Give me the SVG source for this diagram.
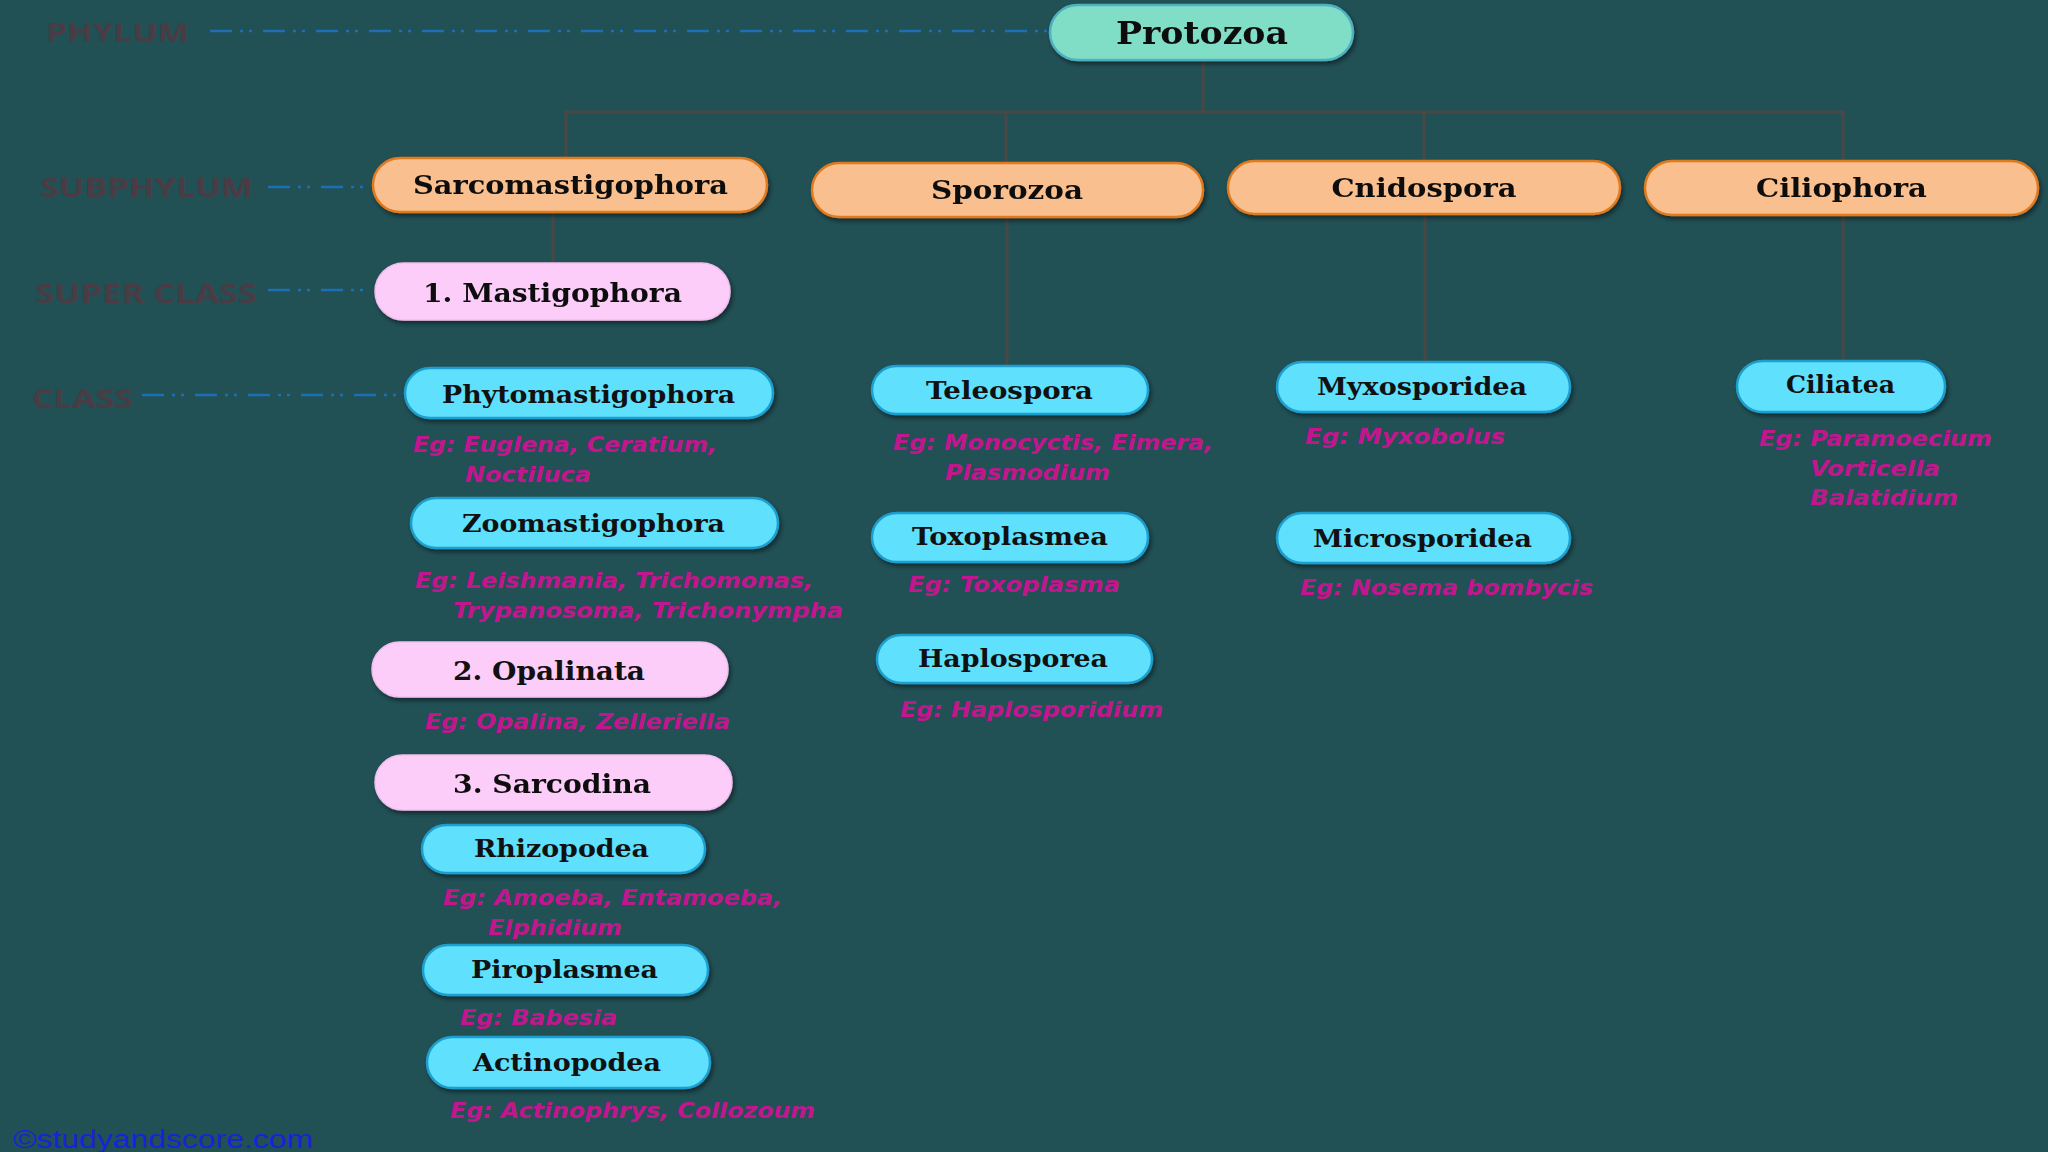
<svg xmlns="http://www.w3.org/2000/svg" width="2048" height="1152" viewBox="0 0 2048 1152">
<style>
.nt{font-family:"DejaVu Serif","Liberation Serif",serif;font-weight:bold;fill:#111;text-anchor:middle}
.eg{font-family:"DejaVu Sans","Noto Sans",sans-serif;font-weight:bold;font-style:italic;font-size:21px;fill:#c2168e}
.lv{font-family:"Open Sans","DejaVu Sans",sans-serif;font-weight:bold;font-size:27px;fill:#4a3c44}
.cy{fill:#5fe0fc;stroke:#1d9fcf;stroke-width:2.5}
.or{fill:#f9bf8e;stroke:#e07a1f;stroke-width:2.5}
.pk{fill:#fccdf8;stroke:#f3bdee;stroke-width:1.5}
.mt{fill:#80dec6;stroke:#4fb0c0;stroke-width:2.5}
.cn{stroke:#4a4846;stroke-width:3;fill:none}
.dl{stroke:#1d6fb5;stroke-width:2.5;fill:none;stroke-dasharray:22 8 3 6 3 11}
</style>
<defs>
<filter id="sh" x="-10%" y="-30%" width="120%" height="170%">
<feDropShadow dx="2" dy="3" stdDeviation="2" flood-color="#000" flood-opacity="0.45"/>
</filter>
</defs>
<rect width="2048" height="1152" fill="#215055"/>

<g id="level-labels">
<text class="lv" x="46" y="42" textLength="143" lengthAdjust="spacingAndGlyphs">PHYLUM</text>
<text class="lv" x="40" y="197" textLength="213" lengthAdjust="spacingAndGlyphs">SUBPHYLUM</text>
<text class="lv" x="35" y="303" textLength="222" lengthAdjust="spacingAndGlyphs">SUPER CLASS</text>
<text class="lv" x="32" y="408" textLength="101" lengthAdjust="spacingAndGlyphs">CLASS</text>
<line class="dl" x1="210" y1="31" x2="1049" y2="31"/>
<line class="dl" x1="268" y1="187" x2="372" y2="187"/>
<line class="dl" x1="268" y1="290" x2="374" y2="290"/>
<line class="dl" x1="142" y1="395" x2="404" y2="395"/>
</g>

<g id="connectors">
<line class="cn" x1="1203" y1="60" x2="1203" y2="112"/>
<line class="cn" x1="564.5" y1="112" x2="1844.5" y2="112"/>
<line class="cn" x1="566" y1="112" x2="566" y2="158"/>
<line class="cn" x1="1006" y1="112" x2="1006" y2="163"/>
<line class="cn" x1="1424" y1="112" x2="1424" y2="161"/>
<line class="cn" x1="1843" y1="112" x2="1843" y2="161"/>
<line class="cn" x1="553" y1="212" x2="553" y2="263"/>
<line class="cn" x1="1007" y1="217" x2="1007" y2="366"/>
<line class="cn" x1="1425" y1="214" x2="1425" y2="362"/>
<line class="cn" x1="1843" y1="215" x2="1843" y2="361"/>
</g>

<g id="protozoa" filter="url(#sh)">
<rect class="mt" x="1050" y="5" width="303" height="55" rx="27.5"/>
<text class="nt" x="1202" y="44" font-size="31" textLength="172" lengthAdjust="spacingAndGlyphs">Protozoa</text>
</g>

<g id="sarcomastigophora" filter="url(#sh)">
<rect class="or" x="373" y="158" width="394" height="54" rx="27"/>
<text class="nt" x="570.5" y="194" font-size="26" textLength="315" lengthAdjust="spacingAndGlyphs">Sarcomastigophora</text>
</g>
<g id="sporozoa" filter="url(#sh)">
<rect class="or" x="812" y="163" width="391" height="54" rx="27"/>
<text class="nt" x="1007" y="199" font-size="26" textLength="152" lengthAdjust="spacingAndGlyphs">Sporozoa</text>
</g>
<g id="cnidospora" filter="url(#sh)">
<rect class="or" x="1228" y="161" width="392" height="53" rx="26.5"/>
<text class="nt" x="1424" y="197" font-size="26" textLength="185" lengthAdjust="spacingAndGlyphs">Cnidospora</text>
</g>
<g id="ciliophora" filter="url(#sh)">
<rect class="or" x="1645" y="161" width="393" height="54" rx="27"/>
<text class="nt" x="1841.5" y="197" font-size="26" textLength="171" lengthAdjust="spacingAndGlyphs">Ciliophora</text>
</g>

<g id="mastigophora" filter="url(#sh)">
<rect class="pk" x="375" y="263" width="355" height="57" rx="28.5"/>
<text class="nt" x="552.5" y="302" font-size="26" textLength="259" lengthAdjust="spacingAndGlyphs">1. Mastigophora</text>
</g>
<g id="phytomastigophora">
<rect class="cy" x="405" y="368" width="368" height="50" rx="25" filter="url(#sh)"/>
<text class="nt" x="588.5" y="403" font-size="24" textLength="293" lengthAdjust="spacingAndGlyphs">Phytomastigophora</text>
<text class="eg" x="413" y="452" textLength="304" lengthAdjust="spacingAndGlyphs">Eg: Euglena, Ceratium,</text>
<text class="eg" x="465" y="482" textLength="126" lengthAdjust="spacingAndGlyphs">Noctiluca</text>
</g>
<g id="zoomastigophora">
<rect class="cy" x="411" y="498" width="367" height="50" rx="25" filter="url(#sh)"/>
<text class="nt" x="593.5" y="532" font-size="24" textLength="263" lengthAdjust="spacingAndGlyphs">Zoomastigophora</text>
<text class="eg" x="415" y="588" textLength="398" lengthAdjust="spacingAndGlyphs">Eg: Leishmania, Trichomonas,</text>
<text class="eg" x="453" y="618" textLength="390" lengthAdjust="spacingAndGlyphs">Trypanosoma, Trichonympha</text>
</g>
<g id="opalinata">
<rect class="pk" x="372" y="642" width="356" height="55" rx="27.5" filter="url(#sh)"/>
<text class="nt" x="549" y="680" font-size="26" textLength="192" lengthAdjust="spacingAndGlyphs">2. Opalinata</text>
<text class="eg" x="425" y="729" textLength="305" lengthAdjust="spacingAndGlyphs">Eg: Opalina, Zelleriella</text>
</g>
<g id="sarcodina" filter="url(#sh)">
<rect class="pk" x="375" y="755" width="357" height="55" rx="27.5"/>
<text class="nt" x="552" y="793" font-size="26" textLength="198" lengthAdjust="spacingAndGlyphs">3. Sarcodina</text>
</g>
<g id="rhizopodea">
<rect class="cy" x="422" y="825" width="283" height="48" rx="24" filter="url(#sh)"/>
<text class="nt" x="561.5" y="857" font-size="24" textLength="175" lengthAdjust="spacingAndGlyphs">Rhizopodea</text>
<text class="eg" x="443" y="905" textLength="339" lengthAdjust="spacingAndGlyphs">Eg: Amoeba, Entamoeba,</text>
<text class="eg" x="488" y="935" textLength="134" lengthAdjust="spacingAndGlyphs">Elphidium</text>
</g>
<g id="piroplasmea">
<rect class="cy" x="423" y="945" width="285" height="50" rx="25" filter="url(#sh)"/>
<text class="nt" x="564.5" y="978" font-size="24" textLength="187" lengthAdjust="spacingAndGlyphs">Piroplasmea</text>
<text class="eg" x="460" y="1025" textLength="157" lengthAdjust="spacingAndGlyphs">Eg: Babesia</text>
</g>
<g id="actinopodea">
<rect class="cy" x="427" y="1037" width="283" height="51" rx="25.5" filter="url(#sh)"/>
<text class="nt" x="567" y="1071" font-size="24" textLength="188" lengthAdjust="spacingAndGlyphs">Actinopodea</text>
<text class="eg" x="450" y="1118" textLength="365" lengthAdjust="spacingAndGlyphs">Eg: Actinophrys, Collozoum</text>
</g>

<g id="teleospora">
<rect class="cy" x="872" y="366" width="276" height="48" rx="24" filter="url(#sh)"/>
<text class="nt" x="1009.5" y="399" font-size="24" textLength="167" lengthAdjust="spacingAndGlyphs">Teleospora</text>
<text class="eg" x="893" y="450" textLength="320" lengthAdjust="spacingAndGlyphs">Eg: Monocyctis, Eimera,</text>
<text class="eg" x="945" y="480" textLength="165" lengthAdjust="spacingAndGlyphs">Plasmodium</text>
</g>
<g id="toxoplasmea">
<rect class="cy" x="872" y="513" width="276" height="49" rx="24.5" filter="url(#sh)"/>
<text class="nt" x="1010" y="545" font-size="24" textLength="196" lengthAdjust="spacingAndGlyphs">Toxoplasmea</text>
<text class="eg" x="908" y="592" textLength="212" lengthAdjust="spacingAndGlyphs">Eg: Toxoplasma</text>
</g>
<g id="haplosporea">
<rect class="cy" x="877" y="635" width="275" height="48" rx="24" filter="url(#sh)"/>
<text class="nt" x="1013" y="667" font-size="24" textLength="190" lengthAdjust="spacingAndGlyphs">Haplosporea</text>
<text class="eg" x="900" y="717" textLength="263" lengthAdjust="spacingAndGlyphs">Eg: Haplosporidium</text>
</g>

<g id="myxosporidea">
<rect class="cy" x="1277" y="362" width="293" height="50" rx="25" filter="url(#sh)"/>
<text class="nt" x="1422" y="395" font-size="24" textLength="210" lengthAdjust="spacingAndGlyphs">Myxosporidea</text>
<text class="eg" x="1305" y="444" textLength="200" lengthAdjust="spacingAndGlyphs">Eg: Myxobolus</text>
</g>
<g id="microsporidea">
<rect class="cy" x="1277" y="513" width="293" height="50" rx="25" filter="url(#sh)"/>
<text class="nt" x="1422.5" y="547" font-size="24" textLength="219" lengthAdjust="spacingAndGlyphs">Microsporidea</text>
<text class="eg" x="1300" y="595" textLength="293" lengthAdjust="spacingAndGlyphs">Eg: Nosema bombycis</text>
</g>

<g id="ciliatea">
<rect class="cy" x="1737" y="361" width="208" height="51" rx="25.5" filter="url(#sh)"/>
<text class="nt" x="1840.5" y="393" font-size="24" textLength="109" lengthAdjust="spacingAndGlyphs">Ciliatea</text>
<text class="eg" x="1759" y="446" textLength="233" lengthAdjust="spacingAndGlyphs">Eg: Paramoecium</text>
<text class="eg" x="1810" y="476" textLength="130" lengthAdjust="spacingAndGlyphs">Vorticella</text>
<text class="eg" x="1810" y="505" textLength="148" lengthAdjust="spacingAndGlyphs">Balatidium</text>
</g>

<text x="13" y="1148" font-family="'Liberation Sans',Arial,sans-serif" font-size="26" fill="#1a22d8" textLength="300" lengthAdjust="spacingAndGlyphs">©studyandscore.com</text>
</svg>
